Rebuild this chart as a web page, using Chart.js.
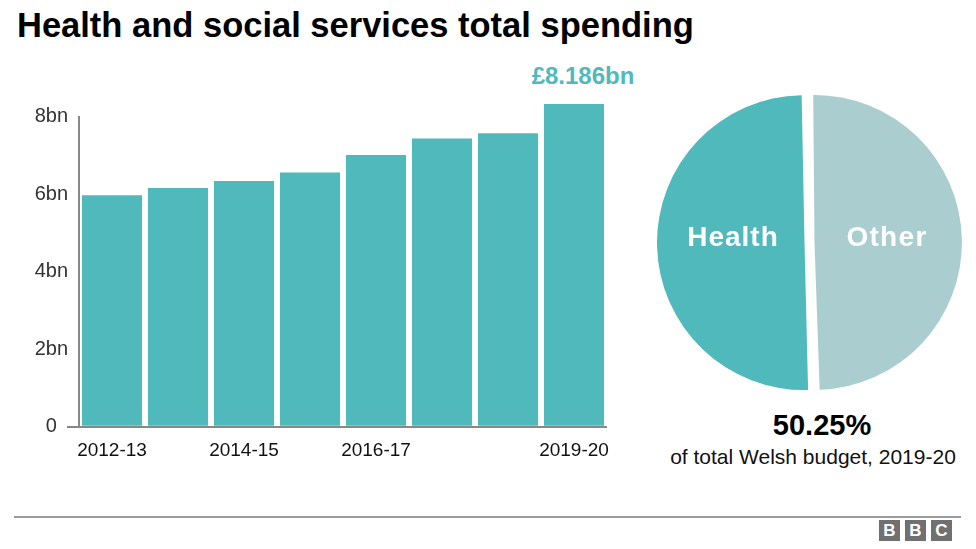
<!DOCTYPE html>
<html>
<head>
<meta charset="utf-8">
<script src="https://cdn.jsdelivr.net/npm/chart.js@4"></script>
<style>
  html, body { margin:0; padding:0; background:#fff; }
  body { width:976px; height:549px; position:relative; overflow:hidden; font-family:"Liberation Sans", Arial, Helvetica, sans-serif; }
  .t { position:absolute; line-height:1; white-space:nowrap; }
  .c { text-align:center; }
  #barWrap { position:absolute; left:0; top:0; width:640px; height:480px; }
  #pieWrap { position:absolute; left:655px; top:88px; width:309px; height:309px; }
  .box { position:absolute; top:520px; width:21px; height:21px; background:#707070; color:#fff; font-weight:bold; font-size:17px; line-height:21px; text-align:center; }
</style>
</head>
<body>
<div class="t" style="left:17px;top:8.4px;font-size:34.5px;font-weight:bold;color:#000;">Health and social services total spending</div>
<div class="t c" style="left:483px;width:200px;top:63.6px;font-size:24px;font-weight:bold;color:#50b9bc;">£8.186bn</div>

<div id="barWrap"><canvas id="bar"></canvas></div>
<div id="pieWrap"><canvas id="pie"></canvas></div>

<div class="t c" style="left:653px;width:160px;top:223px;font-size:28px;font-weight:bold;color:#fff;letter-spacing:1px;">Health</div>
<div class="t c" style="left:807px;width:160px;top:223px;font-size:28px;font-weight:bold;color:#fff;letter-spacing:1.3px;">Other</div>
<div class="t c" style="left:722px;width:200px;top:411.2px;font-size:29px;font-weight:bold;color:#000;">50.25%</div>
<div class="t c" style="left:663px;width:300px;top:445.5px;font-size:21px;color:#111;">of total Welsh budget, 2019-20</div>

<div style="position:absolute;left:14px;top:516px;width:947px;height:2px;background:#9a9a9a;"></div>
<div class="box" style="left:879px;">B</div>
<div class="box" style="left:905px;">B</div>
<div class="box" style="left:931px;">C</div>

<script>
const categories = ['2012-13','2013-14','2014-15','2015-16','2016-17','2017-18','2018-19','2019-20'];
const spending = [5.97, 6.16, 6.34, 6.56, 7.01, 7.44, 7.57, 8.33];
const shownXLabels = ['2012-13','2014-15','2016-17','2019-20'];
const yTicks = [0, 2, 4, 6, 8];
const yTickLabels = ['0  ','2bn','4bn','6bn','8bn'];
const pieLabels = ['Health','Other'];
const pieShares = [50.25, 49.75];

const TEAL = '#50b9bc';
const LIGHT = '#aacdcf';
const FONT = '"Liberation Sans", Arial, Helvetica, sans-serif';

new Chart(document.getElementById('bar'), {
  type: 'bar',
  data: {
    labels: categories,
    datasets: [{
      data: spending,
      backgroundColor: TEAL,
      borderWidth: 0,
      barPercentage: 0.91,
      categoryPercentage: 1.0,
      clip: false
    }]
  },
  options: {
    responsive: true,
    maintainAspectRatio: false,
    animation: false,
    events: [],
    layout: { padding: { top: 116.7, right: 33, bottom: 0, left: 0 } },
    plugins: { legend: { display: false }, tooltip: { enabled: false } },
    scales: {
      x: {
        grid: { display: false },
        border: { display: false },
        afterFit: s => { s.height = 53.3; },
        ticks: {
          autoSkip: false, maxRotation: 0, minRotation: 0,
          padding: 5,
          color: '#111',
          font: { family: FONT, size: 19 },
          callback: function(v, i) { const l = categories[i]; return shownXLabels.includes(l) ? l : ''; }
        }
      },
      y: {
        min: 0, max: 8,
        afterFit: s => { s.width = 79; },
        afterBuildTicks: s => { s.ticks = yTicks.map(v => ({ value: v })); },
        border: { display: true, color: '#888', width: 2 },
        grid: {
          color: c => (c.tick && c.tick.value === 0) ? '#888' : 'rgba(0,0,0,0)',
          lineWidth: 2,
          tickLength: 12,
          drawOnChartArea: true
        },
        ticks: {
          padding: -1,
          color: '#333',
          font: { family: FONT, size: 20 },
          callback: v => yTickLabels[yTicks.indexOf(v)]
        }
      }
    }
  }
});

new Chart(document.getElementById('pie'), {
  type: 'pie',
  data: {
    labels: pieLabels,
    datasets: [{
      data: pieShares,
      backgroundColor: [TEAL, LIGHT],
      borderWidth: 0,
      offset: 20,
      radius: 142.5
    }]
  },
  options: {
    responsive: true,
    maintainAspectRatio: false,
    animation: false,
    events: [],
    rotation: 178.3,
    layout: { padding: 0 },
    plugins: { legend: { display: false }, tooltip: { enabled: false } }
  }
});
</script>
</body>
</html>
